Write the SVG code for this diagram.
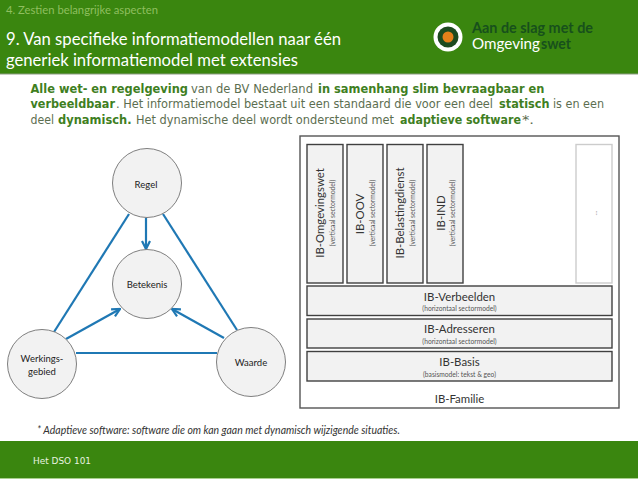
<svg xmlns="http://www.w3.org/2000/svg" width="638" height="479" viewBox="0 0 638 479">
<style>
.c{fill:#f2f2f2;stroke:#7f7f7f;stroke-width:1}
.l{fill:none;stroke:#1f78b4;stroke-width:2.200}
.nl{font-family:Lato,"Liberation Sans",sans-serif;font-size:9.500px;fill:#222;text-anchor:middle}
.b{fill:#f2f2f2;stroke:#404040;stroke-width:1.400}
.bt{font-family:Lato,"Liberation Sans",sans-serif;font-size:11.400px;fill:#333;text-anchor:middle}
.bs{font-family:Lato,"Liberation Sans",sans-serif;font-size:6.700px;fill:#555;text-anchor:middle}
.p{font-family:"DejaVu Sans",sans-serif;font-size:11.800px;fill:#5c6e50}
.s{font-family:"DejaVu Sans",sans-serif;font-size:11.800px;font-weight:bold;fill:#3f7f1f}
.t{font-family:Lato,"Liberation Sans",sans-serif;font-size:17.500px;fill:#fff}
</style>
<defs><marker id="a" viewBox="0 0 10 10" refX="9" refY="5" markerWidth="10" markerHeight="10" markerUnits="userSpaceOnUse" orient="auto"><path d="M1 1L9 5L1 9" fill="none" stroke="#1f78b4" stroke-width="2.200"/></marker></defs>
<rect width="638" height="479" fill="#fff"/>
<g id="header">
<rect width="638" height="74" fill="#3a860f"/>
<rect y="73.500" width="638" height="1" fill="#8a9a80"/>
<text x="6" y="14" font-family="Lato,sans-serif" font-size="11" fill="#8fbf5f" textLength="152" lengthAdjust="spacingAndGlyphs">4. Zestien belangrijke aspecten</text>
<text class="t" x="6" y="45" textLength="335" lengthAdjust="spacingAndGlyphs">9. Van specifieke informatiemodellen naar één</text>
<text class="t" x="6" y="66" textLength="292" lengthAdjust="spacingAndGlyphs">generiek informatiemodel met extensies</text>
</g>
<g id="logo">
<circle cx="448" cy="37" r="14.500" fill="#fff"/>
<circle cx="448" cy="37" r="10.500" fill="#1d4a1f"/>
<circle cx="448" cy="37" r="5.500" fill="#e5801a"/>
<text x="472" y="33" font-family="Lato,sans-serif" font-size="14.500" font-weight="bold" fill="#17501c" textLength="121" lengthAdjust="spacingAndGlyphs">Aan de slag met de</text>
<text x="472" y="49" font-family="Lato,sans-serif" font-size="14.500" fill="#fff" textLength="68" lengthAdjust="spacingAndGlyphs">Omgeving</text>
<text x="541" y="49" font-family="Lato,sans-serif" font-size="14.500" font-weight="bold" fill="#17501c" textLength="30" lengthAdjust="spacingAndGlyphs">swet</text>
</g>
<g id="intro">
<text class="s" x="30.500" y="92.500" textLength="157.500" lengthAdjust="spacingAndGlyphs">Alle wet- en regelgeving</text>
<text class="p" x="191" y="92.500" textLength="122" lengthAdjust="spacingAndGlyphs">van de BV Nederland</text>
<text class="s" x="318" y="92.500" textLength="226.500" lengthAdjust="spacingAndGlyphs">in samenhang slim bevraagbaar en</text>
<text class="s" x="30.500" y="108" textLength="84.500" lengthAdjust="spacingAndGlyphs">verbeeldbaar</text>
<text class="p" x="116" y="108" textLength="377" lengthAdjust="spacingAndGlyphs">. Het informatiemodel bestaat uit een standaard die voor een deel</text>
<text class="s" x="499" y="108" textLength="50.500" lengthAdjust="spacingAndGlyphs">statisch</text>
<text class="p" x="553" y="108" textLength="51" lengthAdjust="spacingAndGlyphs">is en een</text>
<text class="p" x="30.500" y="124" textLength="23.500" lengthAdjust="spacingAndGlyphs">deel</text>
<text class="s" x="58" y="124" textLength="73.500" lengthAdjust="spacingAndGlyphs">dynamisch.</text>
<text class="p" x="136" y="124" textLength="258" lengthAdjust="spacingAndGlyphs">Het dynamische deel wordt ondersteund met</text>
<text class="s" x="400" y="124" textLength="121" lengthAdjust="spacingAndGlyphs">adaptieve software</text>
<text class="p" x="522" y="124" textLength="12" lengthAdjust="spacingAndGlyphs">*.</text>
</g>
<g id="connectors">
<path class="l" d="M129 214L54 332"/>
<path class="l" d="M163 214L237 330"/>
<path class="l" d="M76 353H217"/>
<path class="l" d="M146 218V249" marker-end="url(#a)"/>
<path class="l" d="M66 339L120 309" marker-end="url(#a)"/>
<path class="l" d="M224 338L172 309" marker-end="url(#a)"/>
</g>
<g id="regel"><circle class="c" cx="147" cy="183" r="34.500"/><text class="nl" x="146" y="187.500">Regel</text></g>
<g id="betekenis"><circle class="c" cx="147" cy="284" r="34.500"/><text class="nl" x="147" y="288">Betekenis</text></g>
<g id="werkingsgebied"><circle class="c" cx="42" cy="364" r="34.500"/><text class="nl" x="42" y="362">Werkings-</text><text class="nl" x="42" y="375">gebied</text></g>
<g id="waarde"><circle class="c" cx="251" cy="362" r="34.500"/><text class="nl" x="251" y="366">Waarde</text></g>
<g id="ib-familie">
<rect x="300" y="136" width="319" height="272" fill="#fff" stroke="#555" stroke-width="1.400"/>
<text class="bt" x="459.500" y="403">IB-Familie</text>
</g>
<g id="ib-omgevingswet"><rect class="b" x="307" y="144.500" width="36" height="138.500"/><text class="bt" transform="translate(324 213) rotate(-90)">IB-Omgevingswet</text><text class="bs" transform="translate(335 213) rotate(-90)">(verticaal sectormodel)</text></g>
<g id="ib-oov"><rect class="b" x="347" y="144.500" width="36" height="138.500"/><text class="bt" transform="translate(364 214) rotate(-90)">IB-OOV</text><text class="bs" transform="translate(375 213) rotate(-90)">(verticaal sectormodel)</text></g>
<g id="ib-belastingdienst"><rect class="b" x="387" y="144.500" width="36" height="138.500"/><text class="bt" transform="translate(404 213) rotate(-90)">IB-Belastingdienst</text><text class="bs" transform="translate(415 213) rotate(-90)">(verticaal sectormodel)</text></g>
<g id="ib-ind"><rect class="b" x="427" y="144.500" width="36" height="138.500"/><text class="bt" transform="translate(445 213) rotate(-90)">IB-IND</text><text class="bs" transform="translate(455 213) rotate(-90)">(verticaal sectormodel)</text></g>
<g id="ib-more"><rect x="576" y="144.500" width="36" height="138.500" fill="#fff" stroke="#ccc" stroke-width="1.400"/><text class="bs" transform="translate(597 213) rotate(-90)" style="fill:#999">...</text></g>
<g id="ib-verbeelden"><rect class="b" x="307" y="286" width="305" height="29.500"/><text class="bt" x="459.500" y="300.500">IB-Verbeelden</text><text class="bs" x="459.500" y="311">(horizontaal sectormodel)</text></g>
<g id="ib-adresseren"><rect class="b" x="307" y="319" width="305" height="29"/><text class="bt" x="459.500" y="333">IB-Adresseren</text><text class="bs" x="459.500" y="344">(horizontaal sectormodel)</text></g>
<g id="ib-basis"><rect class="b" x="307" y="351.500" width="305" height="29.500"/><text class="bt" x="459.500" y="365.500">IB-Basis</text><text class="bs" x="459.500" y="377">(basismodel: tekst &amp; geo)</text></g>
<g id="footnote"><text x="37" y="434" font-family="Lato,sans-serif" font-style="italic" font-size="10.500" fill="#333" textLength="363" lengthAdjust="spacingAndGlyphs">* Adaptieve software: software die om kan gaan met dynamisch wijzigende situaties.</text></g>
<g id="footer">
<rect y="441" width="638" height="37" fill="#3a860f"/>
<rect y="478" width="638" height="1" fill="#a9d08e"/>
<text x="33" y="464" font-family="DejaVu Sans,sans-serif" font-size="9.500" fill="#e8f2e0" textLength="58" lengthAdjust="spacingAndGlyphs">Het DSO 101</text>
</g>
</svg>
